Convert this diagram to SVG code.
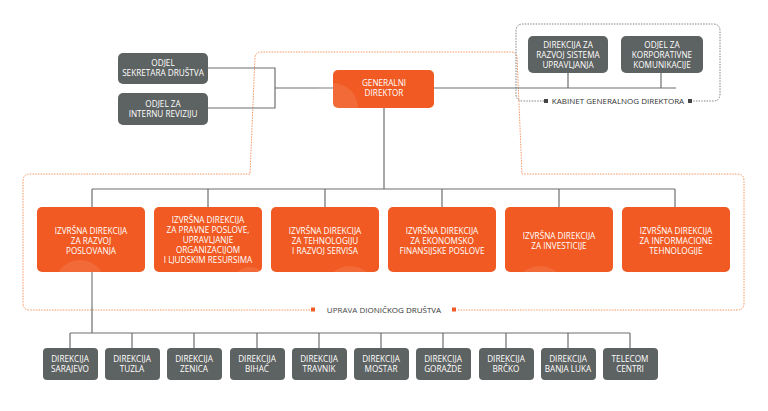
<svg xmlns="http://www.w3.org/2000/svg" width="768" height="411" viewBox="0 0 768 411">
<style>
.o{fill:#f15a22}.g{fill:#5d6262}
.t{font-family:"Open Sans","Liberation Sans",sans-serif;font-size:8.2px;fill:#fff;text-anchor:middle}
.l{font-family:"Open Sans","Liberation Sans",sans-serif;font-size:8px;fill:#333;text-anchor:middle}
.c{fill:none;stroke:#6d6e70;stroke-width:1.2}
.d{fill:none;stroke:#f58a4f;stroke-width:0.9;stroke-dasharray:1.5 1.2}
.k{fill:none;stroke:#666;stroke-width:0.8;stroke-dasharray:1.5 1.2}
.h{fill:#fff;opacity:0.1}
</style>
<rect width="768" height="411" fill="#fff"/>
<g id="regions">
<path class="d" d="M310 310 H30 Q23 310 23 303 V181 Q23 174 30 174 H250 L255 57 Q256 52 261 52 H511 Q516 52 517 57 L522 174 H737 Q744 174 744 181 V303 Q744 310 737 310 H458"/>
<rect x="311" y="307.5" width="4" height="4" fill="#f15a22"/><rect x="452" y="307.5" width="4" height="4" fill="#f15a22"/>
<text class="l" x="384" y="313">UPRAVA DIONIČKOG DRUŠTVA</text>
<path class="k" d="M544 101 L523 101 Q516 101 516 94 L516 31 Q516 24 523 24 L713 24 Q720 24 720 31 L720 94 Q720 101 713 101 L692 101"/>
<rect x="544" y="99" width="4" height="4" fill="#444"/><rect x="688" y="99" width="4" height="4" fill="#444"/>
<text class="l" x="618" y="104">KABINET GENERALNOG DIREKTORA</text>
</g>
<g id="connectors">
<path class="c" d="M208 68 H275 V108 H208 M275 88 H333 M434 88 H676 M568 73 V88 M661 73 V88 M384 108 V189 M92 189 H675 M92 189 V207 M208 189 V207 M325 189 V207 M442 189 V207 M559 189 V207 M675 189 V207 M92 272 V333 M70 333 H630 M70 333 V348 M132 333 V348 M194 333 V348 M257 333 V348 M319 333 V348 M381 333 V348 M443 333 V348 M506 333 V348 M568 333 V348 M630 333 V348"/>
</g>
<g id="sek"><rect class="g" x="118" y="53" width="90" height="31" rx="5"/><text class="t" x="163" y="66">ODJEL</text><text class="t" x="163" y="76">SEKRETARA DRUŠTVA</text></g>
<g id="rev"><rect class="g" x="118" y="93" width="90" height="32" rx="5"/><text class="t" x="163" y="107">ODJEL ZA</text><text class="t" x="163" y="117">INTERNU REVIZIJU</text></g>
<g id="gd"><rect class="o" x="333" y="70" width="101" height="38" rx="5"/><circle class="h" cx="333" cy="108" r="25"/><text class="t" x="384" y="86">GENERALNI</text><text class="t" x="384" y="96">DIREKTOR</text></g>
<g id="drs"><rect class="g" x="528" y="36" width="80" height="37" rx="5"/><text class="t" x="568" y="48">DIREKCIJA ZA</text><text class="t" x="568" y="58">RAZVOJ SISTEMA</text><text class="t" x="568" y="68">UPRAVLJANJA</text></g>
<g id="okk"><rect class="g" x="621" y="36" width="82" height="37" rx="5"/><text class="t" x="662" y="48">ODJEL ZA</text><text class="t" x="662" y="58">KORPORATIVNE</text><text class="t" x="662" y="68">KOMUNIKACIJE</text></g>
<g id="e1"><rect class="o" x="37" y="207" width="108" height="65" rx="5"/><circle class="h" cx="80" cy="285" r="25"/><text class="t" x="91" y="234">IZVRŠNA DIREKCIJA</text><text class="t" x="91" y="244">ZA RAZVOJ</text><text class="t" x="91" y="254">POSLOVANJA</text></g>
<g id="e2"><rect class="o" x="154" y="207" width="108" height="65" rx="5"/><circle class="h" cx="250" cy="285" r="18"/><text class="t" x="208" y="223">IZVRŠNA DIREKCIJA</text><text class="t" x="208" y="233">ZA PRAVNE POSLOVE,</text><text class="t" x="208" y="243">UPRAVLJANJE</text><text class="t" x="208" y="253">ORGANIZACIJOM</text><text class="t" x="208" y="263">I LJUDSKIM RESURSIMA</text></g>
<g id="e3"><rect class="o" x="271" y="207" width="108" height="65" rx="5"/><circle class="h" cx="350" cy="292" r="26"/><text class="t" x="325" y="234">IZVRŠNA DIREKCIJA</text><text class="t" x="325" y="244">ZA TEHNOLOGIJU</text><text class="t" x="325" y="254">I RAZVOJ SERVISA</text></g>
<g id="e4"><rect class="o" x="388" y="207" width="108" height="65" rx="5"/><text class="t" x="442" y="234">IZVRŠNA DIREKCIJA</text><text class="t" x="442" y="244">ZA EKONOMSKO</text><text class="t" x="442" y="254">FINANSIJSKE POSLOVE</text></g>
<g id="e5"><rect class="o" x="505" y="207" width="108" height="65" rx="5"/><circle class="h" cx="540" cy="292" r="26"/><text class="t" x="559" y="239">IZVRŠNA DIREKCIJA</text><text class="t" x="559" y="249">ZA INVESTICIJE</text></g>
<g id="e6"><rect class="o" x="622" y="207" width="108" height="65" rx="5"/><text class="t" x="676" y="234">IZVRŠNA DIREKCIJA</text><text class="t" x="676" y="244">ZA INFORMACIONE</text><text class="t" x="676" y="254">TEHNOLOGIJE</text></g>
<g id="b1"><rect class="g" x="43" y="348" width="55" height="32" rx="4"/><text class="t" x="70" y="362">DIREKCIJA</text><text class="t" x="70" y="372">SARAJEVO</text></g>
<g id="b2"><rect class="g" x="105" y="348" width="55" height="32" rx="4"/><text class="t" x="132" y="362">DIREKCIJA</text><text class="t" x="132" y="372">TUZLA</text></g>
<g id="b3"><rect class="g" x="167" y="348" width="55" height="32" rx="4"/><text class="t" x="194" y="362">DIREKCIJA</text><text class="t" x="194" y="372">ZENICA</text></g>
<g id="b4"><rect class="g" x="230" y="348" width="55" height="32" rx="4"/><text class="t" x="257" y="362">DIREKCIJA</text><text class="t" x="257" y="372">BIHAĆ</text></g>
<g id="b5"><rect class="g" x="292" y="348" width="55" height="32" rx="4"/><text class="t" x="319" y="362">DIREKCIJA</text><text class="t" x="319" y="372">TRAVNIK</text></g>
<g id="b6"><rect class="g" x="354" y="348" width="55" height="32" rx="4"/><text class="t" x="381" y="362">DIREKCIJA</text><text class="t" x="381" y="372">MOSTAR</text></g>
<g id="b7"><rect class="g" x="416" y="348" width="55" height="32" rx="4"/><text class="t" x="443" y="362">DIREKCIJA</text><text class="t" x="443" y="372">GORAŽDE</text></g>
<g id="b8"><rect class="g" x="479" y="348" width="55" height="32" rx="4"/><text class="t" x="506" y="362">DIREKCIJA</text><text class="t" x="506" y="372">BRČKO</text></g>
<g id="b9"><rect class="g" x="541" y="348" width="55" height="32" rx="4"/><text class="t" x="568" y="362">DIREKCIJA</text><text class="t" x="568" y="372">BANJA LUKA</text></g>
<g id="b10"><rect class="g" x="603" y="348" width="55" height="32" rx="4"/><text class="t" x="630" y="362">TELECOM</text><text class="t" x="630" y="372">CENTRI</text></g>
</svg>
